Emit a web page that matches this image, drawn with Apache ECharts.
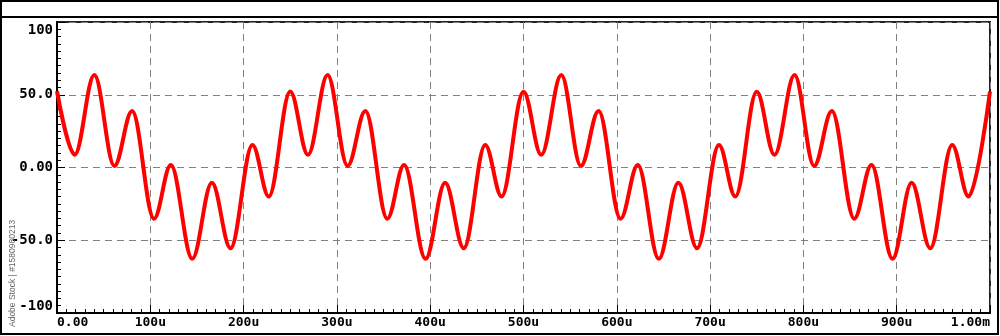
<!DOCTYPE html>
<html>
<head>
<meta charset="utf-8">
<script src="https://cdn.jsdelivr.net/npm/echarts@6/dist/echarts.min.js"></script>
<style>
html,body{margin:0;padding:0;background:#fff;}
#chart{width:1000px;height:336px;}
</style>
</head>
<body>
<div id="chart"></div>
<script>
// Time (µs) of each turning point of the trace
const times = [
  0, 19, 40, 61.5, 80.5, 104, 122, 145, 166, 186, 209.5, 227,
  250, 269, 290, 311.5, 330.5, 354, 372, 395, 416, 436, 459, 476.5,
  500, 519, 540.5, 561.5, 580.5, 604, 622.5, 645, 666, 686, 709.5, 727,
  750, 769, 790.5, 811.5, 830.5, 854.5, 873, 895.5, 916, 936, 959.5, 977,
  1000
];
// Trace value at each of those points
const values = [
  52.5, 8.8, 63.5, 1.1, 38.8, -35.2, 1.8, -62.7, -10.5, -55.5, 15.5, -19.9,
  52.2, 8.7, 63.5, 1.1, 38.9, -35.2, 1.8, -62.8, -10.5, -55.5, 15.5, -19.9,
  52.1, 8.7, 63.5, 1.1, 38.8, -35.2, 1.8, -62.8, -10.5, -55.5, 15.5, -19.9,
  52.0, 8.7, 63.5, 1.1, 38.8, -35.2, 1.8, -62.8, -10.5, -55.5, 15.5, -19.9,
  52.2
];
const xTicks = {0: '0.00', 100: '100u', 200: '200u', 300: '300u', 400: '400u', 500: '500u',
  600: '600u', 700: '700u', 800: '800u', 900: '900u', 1000: '1.00m'};
const yTicks = {100: '100', 50: '50.0', 0: '0.00', '-50': '-50.0', '-100': '-100'};

const points = times.map((t, i) => [t, values[i]]);
const labelFont = 'DejaVu Sans Mono';

const chart = echarts.init(document.getElementById('chart'), null, {renderer: 'canvas'});
chart.setOption({
  animation: false,
  backgroundColor: '#fff',
  grid: {left: 57, right: 10, top: 22, bottom: 23, show: true, borderColor: '#222', borderWidth: 2},
  xAxis: {
    type: 'value', min: 0, max: 1000, interval: 100,
    axisLine: {show: true, onZero: false, lineStyle: {color: '#000', width: 2}},
    axisTick: {show: true, inside: true, length: 8, lineStyle: {color: '#000', width: 1}},
    minorTick: {show: true, splitNumber: 10, length: 4, lineStyle: {color: '#000', width: 1}},
    splitLine: {show: true, lineStyle: {color: '#808080', width: 1, type: [7, 5]}},
    axisLabel: {
      color: '#000', fontFamily: labelFont, fontWeight: 'bold', fontSize: 13, margin: 3,
      alignMinLabel: 'left', alignMaxLabel: 'right',
      formatter: v => xTicks[v] !== undefined ? xTicks[v] : ''
    }
  },
  yAxis: {
    type: 'value', min: -100, max: 100, interval: 50,
    axisLine: {show: true, onZero: false, lineStyle: {color: '#000', width: 2}},
    axisTick: {show: true, inside: true, length: 8, lineStyle: {color: '#000', width: 1}},
    minorTick: {show: true, splitNumber: 10, length: 4, lineStyle: {color: '#000', width: 1}},
    splitLine: {show: true, lineStyle: {color: '#808080', width: 1, type: [7, 5]}},
    axisLabel: {
      color: '#000', fontFamily: labelFont, fontWeight: 'bold', fontSize: 14, margin: 4,
      formatter: v => {
        const s = yTicks[v] !== undefined ? yTicks[v] : '';
        if (v === 100) return '{top|' + s + '}';
        if (v === -100) return '{bot|' + s + '}';
        return s;
      },
      rich: {
        top: {fontFamily: labelFont, fontWeight: 'bold', fontSize: 14, color: '#000', padding: [16, 0, 0, 0]},
        bot: {fontFamily: labelFont, fontWeight: 'bold', fontSize: 14, color: '#000', padding: [0, 0, 14, 0]}
      }
    }
  },
  series: [{
    type: 'line',
    data: points,
    showSymbol: false,
    smooth: 0.36,
    smoothMonotone: 'x',
    lineStyle: {color: '#ff0000', width: 4},
    z: 3
  }],
  graphic: [
    {type: 'rect', silent: true, z: 100, shape: {x: 1, y: 1, width: 997, height: 333},
     style: {fill: null, stroke: '#000', lineWidth: 2}},
    {type: 'line', silent: true, z: 100, shape: {x1: 0, y1: 17, x2: 999, y2: 17},
     style: {stroke: '#000', lineWidth: 2}},
    {type: 'text', silent: true, z: 100, x: 8, y: 327, rotation: Math.PI / 2,
     style: {text: 'Adobe Stock | #1580980213', fill: '#666', fontSize: 8.5,
             fontFamily: 'Liberation Sans', textAlign: 'left', textVerticalAlign: 'top'}}
  ]
});
</script>
</body>
</html>
